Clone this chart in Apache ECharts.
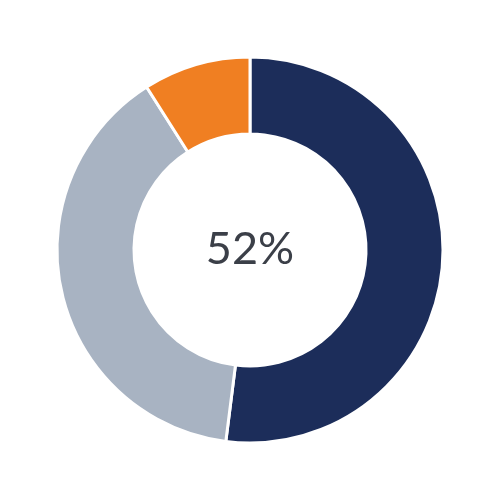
<!DOCTYPE html>
<html><head><meta charset="utf-8">
<script src="https://cdn.jsdelivr.net/npm/echarts@6/dist/echarts.min.js"></script>
<style>html,body{margin:0;padding:0;background:#fff}#c{width:500px;height:500px}</style>
</head><body><div id="c"></div>
<script>
const categories = ['A', 'B', 'C'];
const values = [52, 39, 9];
const colors = ['#1c2d5a', '#a8b3c2', '#f07f22'];
const centerLabel = '52%';

const chart = echarts.init(document.getElementById('c'));
chart.setOption({
  animation: false,
  title: {
    text: centerLabel, left: 'center', top: 222,
    textStyle: { fontFamily: 'Lato', fontWeight: 400, fontSize: 45, color: '#3b3f48' }
  },
  series: [{
    type: 'pie',
    center: ['50%', '50%'],
    radius: ['46.4%', '77.2%'],
    startAngle: 90,
    clockwise: true,
    label: { show: false },
    labelLine: { show: false },
    itemStyle: { borderColor: '#fff', borderWidth: 3 },
    data: categories.map((c, i) => ({ name: c, value: values[i], itemStyle: { color: colors[i] } }))
  }]
});
</script></body></html>
